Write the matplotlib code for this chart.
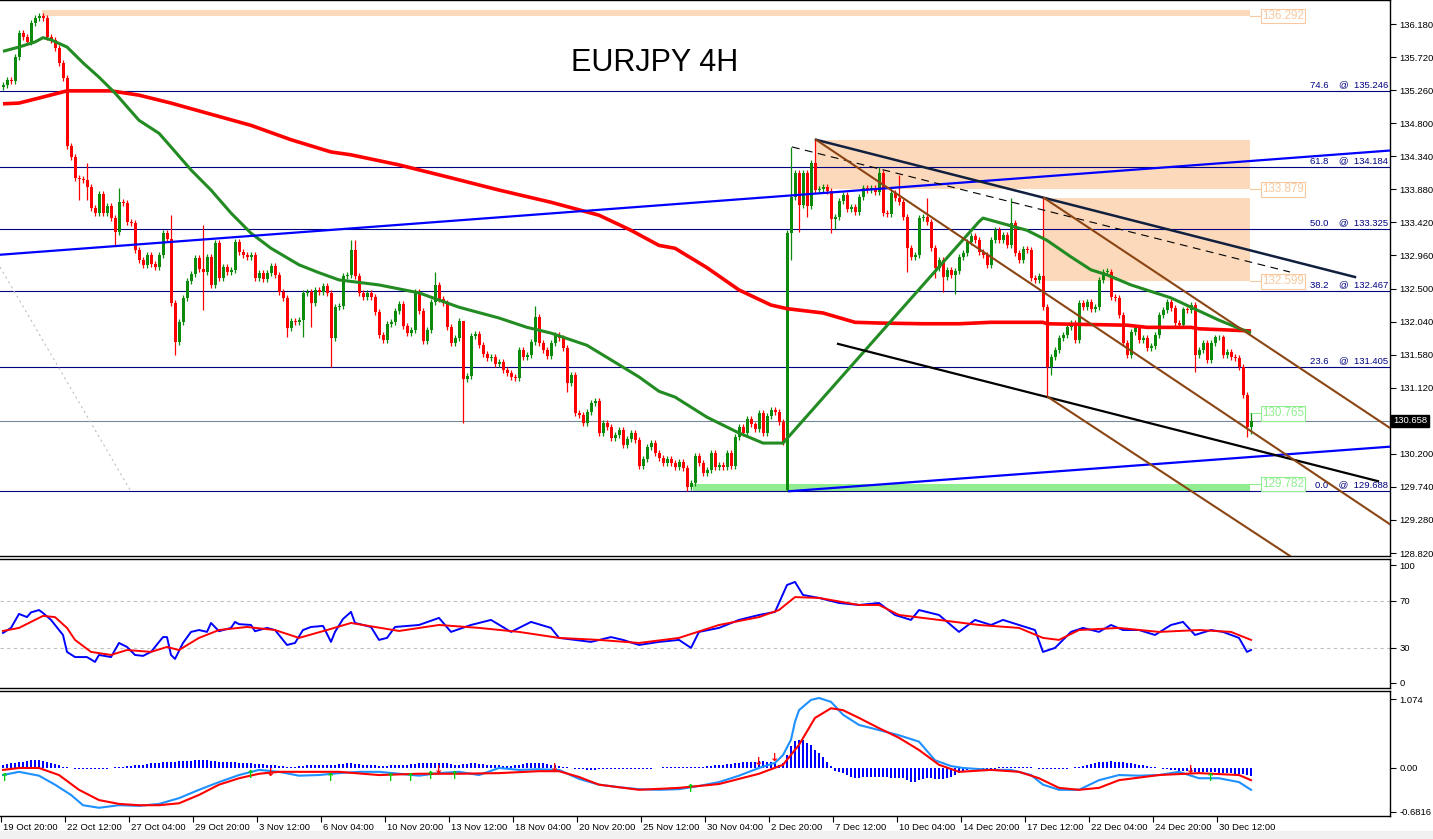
import numpy as np
import matplotlib
matplotlib.use("Agg")
import matplotlib.pyplot as plt
import matplotlib.transforms as mtrans

# ---- data ----
closes = [
    135.33, 135.40, 135.39, 135.72, 136.06, 136.00, 135.93, 136.19, 136.26, 136.29, 136.26, 136.00, 135.96, 135.85, 135.64, 135.43,
    134.48, 134.33, 134.04, 134.02, 134.01, 133.91, 133.62, 133.55, 133.82, 133.55, 133.65, 133.48, 133.29, 133.70, 133.69, 133.43,
    133.41, 133.04, 132.90, 132.83, 132.97, 132.84, 132.80, 132.97, 133.27, 133.19, 132.30, 131.76, 132.03, 132.37, 132.60, 132.70,
    132.92, 132.77, 132.73, 132.94, 132.55, 133.13, 132.65, 132.80, 132.73, 132.76, 133.15, 133.01, 132.97, 132.94, 132.97, 132.65,
    132.72, 132.63, 132.72, 132.81, 132.69, 132.45, 132.37, 131.95, 132.05, 132.03, 132.06, 132.44, 132.45, 132.30, 132.48, 132.45,
    132.54, 132.44, 131.81, 132.24, 132.26, 132.67, 132.69, 133.04, 132.67, 132.44, 132.38, 132.44, 132.38, 132.17, 131.85, 131.78,
    132.01, 132.03, 132.19, 132.28, 131.98, 131.88, 131.92, 132.45, 132.19, 131.77, 131.92, 132.31, 132.55, 132.35, 132.30, 131.96,
    131.74, 131.81, 132.05, 131.24, 131.28, 131.84, 131.87, 131.71, 131.59, 131.53, 131.55, 131.45, 131.48, 131.37, 131.32, 131.27,
    131.26, 131.64, 131.55, 131.58, 131.76, 132.10, 131.74, 131.64, 131.56, 131.74, 131.85, 131.81, 131.67, 131.19, 131.30, 130.77,
    130.74, 130.63, 130.78, 130.91, 130.94, 130.49, 130.63, 130.57, 130.42, 130.46, 130.53, 130.32, 130.41, 130.49, 130.39, 130.03,
    130.13, 130.30, 130.35, 130.21, 130.14, 130.07, 130.13, 130.07, 130.02, 130.09, 130.00, 129.74, 129.79, 130.17, 130.07, 129.93,
    129.98, 130.21, 130.02, 130.05, 130.02, 130.21, 130.03, 130.43, 130.58, 130.49, 130.68, 130.61, 130.55, 130.77, 130.49, 130.73,
    130.81, 130.78, 130.64, 130.36, 133.27, 133.77, 134.11, 133.66, 134.11, 133.65, 134.25, 133.87, 133.88, 133.91, 133.86, 133.47,
    133.50, 133.72, 133.80, 133.61, 133.63, 133.56, 133.77, 133.90, 133.87, 133.90, 133.84, 134.11, 133.55, 133.54, 133.83, 133.76,
    133.70, 133.50, 133.06, 132.94, 132.97, 133.48, 133.50, 133.43, 133.06, 132.79, 132.90, 132.66, 132.76, 132.69, 132.74, 132.94,
    132.99, 133.15, 133.23, 133.18, 133.01, 132.97, 132.83, 133.18, 133.31, 133.18, 133.24, 133.10, 133.41, 132.99, 132.90, 133.05,
    133.04, 132.65, 132.62, 132.67, 132.24, 131.41, 131.55, 131.64, 131.81, 131.85, 131.96, 132.02, 131.78, 132.30, 132.24, 132.31,
    132.21, 132.24, 132.62, 132.73, 132.73, 132.38, 132.37, 132.13, 131.74, 131.58, 131.90, 131.95, 131.78, 131.81, 131.67, 131.70,
    131.85, 132.13, 132.20, 132.31, 132.23, 132.02, 131.99, 132.21, 132.20, 132.27, 131.58, 131.64, 131.74, 131.50, 131.74, 131.82,
    131.82, 131.58, 131.62, 131.55, 131.53, 131.41, 131.02, 130.57, 130.66,
]
first_open = 135.30
open_override = {196: 129.70}
notable_highs = {21: 134.25, 29: 133.90, 42: 133.52, 50: 133.38, 87: 133.18, 88: 133.18, 108: 132.73,
                 115: 131.48, 133: 132.26, 197: 134.47, 203: 134.57, 219: 134.19, 224: 134.08,
                 231: 133.76, 252: 133.76, 260: 133.76, 276: 132.79, 312: 130.77}
notable_lows = {19: 133.73, 21: 133.73, 28: 133.10, 43: 131.58, 50: 132.20, 71: 131.83, 75: 131.83,
                77: 131.97, 82: 131.41, 115: 130.63, 141: 131.06, 171: 129.69, 196: 129.69, 197: 132.90,
                199: 133.29, 201: 133.50, 207: 133.27, 208: 133.33, 226: 132.73, 233: 132.65, 235: 132.45,
                238: 132.43, 261: 130.99, 262: 131.30, 298: 131.34, 311: 130.43, 312: 130.47}
wick = 0.04

# moving averages (bar index, price)
ma_green_idx = [0, 4, 8, 10, 12, 16, 20, 24, 28, 34, 39, 42, 47, 52, 57, 62, 67, 74, 79, 84, 94, 104, 114,
                124, 131, 137, 146, 154, 159, 164, 168, 176, 184, 190, 195, 244, 245, 256, 261, 267, 272,
                276, 282, 292, 297, 304, 312]
ma_green = [135.80, 135.86, 135.93, 135.99, 135.96, 135.86, 135.64, 135.44, 135.22, 134.84, 134.66, 134.47,
            134.15, 133.87, 133.55, 133.27, 133.06, 132.83, 132.72, 132.62, 132.55, 132.44, 132.24, 132.09,
            131.96, 131.88, 131.71, 131.44, 131.27, 131.07, 130.99, 130.71, 130.49, 130.35, 130.35, 133.43,
            133.48, 133.31, 133.17, 132.94, 132.76, 132.69, 132.55, 132.37, 132.24, 132.06, 131.88]
ma_red_idx = [0, 4, 9, 16, 27, 34, 42, 51, 62, 72, 82, 87, 99, 112, 124, 137, 149, 157, 164, 168, 176, 184,
              192, 196, 205, 213, 219, 230, 239, 247, 260, 261, 281, 286, 297, 299, 312]
ma_red = [135.07, 135.08, 135.15, 135.25, 135.25, 135.19, 135.08, 134.94, 134.77, 134.57, 134.40, 134.36,
          134.22, 134.04, 133.87, 133.70, 133.52, 133.31, 133.10, 133.06, 132.79, 132.48, 132.27, 132.22,
          132.16, 132.03, 132.02, 132.01, 132.01, 132.03, 132.03, 132.01, 131.99, 131.96, 131.96, 131.94, 131.91]

# RSI panel
rsi_idx = [0, 2, 4, 6, 7, 9, 10, 12, 15, 16, 18, 21, 23, 24, 27, 29, 31, 33, 35, 37, 40, 41, 42, 43, 45, 47,
           49, 51, 52, 54, 57, 58, 59, 62, 63, 66, 68, 71, 73, 75, 77, 80, 82, 83, 85, 87, 88, 92, 94, 96,
           98, 104, 109, 112, 117, 122, 127, 132, 137, 139, 143, 147, 152, 155, 159, 164, 169, 172, 174,
           179, 184, 189, 193, 196, 198, 200, 204, 209, 214, 219, 223, 227, 229, 234, 239, 243, 247, 250,
           254, 258, 260, 263, 267, 270, 274, 277, 280, 284, 288, 292, 295, 298, 302, 305, 309, 311, 312]
rsi_val = [42.5, 46.8, 58.7, 56.0, 60.0, 62.0, 59.5, 53.6, 40.8, 26.4, 22.0, 22.0, 17.9, 23.8, 22.0, 34.0,
           30.6, 23.8, 23.0, 26.4, 39.0, 39.0, 23.8, 20.4, 34.0, 43.4, 45.0, 43.4, 51.0, 44.0, 46.8, 51.9,
           50.0, 49.3, 44.0, 46.8, 45.0, 32.3, 34.0, 45.0, 47.6, 48.5, 34.9, 43.4, 54.4, 60.4, 51.0, 47.6,
           36.6, 38.3, 47.6, 49.3, 55.3, 43.4, 49.3, 53.6, 43.4, 51.9, 46.8, 38.3, 36.6, 34.9, 39.0, 36.6,
           32.3, 34.9, 36.6, 29.8, 43.4, 46.8, 53.6, 57.8, 60.4, 83.3, 85.9, 74.8, 72.3, 68.0, 66.3, 68.0,
           57.8, 53.6, 62.0, 57.8, 43.4, 53.6, 49.3, 53.6, 49.3, 45.0, 26.4, 29.8, 43.4, 46.8, 43.4, 49.3,
           45.0, 45.0, 40.8, 49.3, 51.9, 40.8, 45.0, 43.4, 38.3, 26.4, 28.0]
rsi_sig_idx = [0, 4, 7, 10, 13, 16, 18, 22, 27, 31, 37, 41, 44, 49, 54, 61, 68, 74, 81, 87, 93, 99, 109,
               119, 129, 139, 149, 159, 169, 179, 189, 194, 198, 204, 214, 219, 224, 234, 244, 254, 260,
               264, 269, 279, 289, 299, 307, 312]
rsi_sig = [44.2, 46.8, 51.9, 57.0, 56.0, 46.8, 36.6, 26.4, 23.8, 28.0, 26.4, 30.6, 28.0, 38.3, 45.0, 47.6,
           45.0, 38.3, 45.0, 51.0, 47.6, 44.2, 49.3, 46.8, 43.4, 38.3, 36.6, 34.0, 38.3, 49.3, 56.0, 62.0,
           73.0, 72.3, 66.3, 66.3, 57.8, 53.6, 49.3, 46.8, 38.3, 36.6, 45.0, 46.8, 43.4, 45.0, 43.4, 36.6]

# MACD panel
macd_idx = [0, 4, 9, 13, 17, 20, 24, 29, 34, 39, 44, 49, 54, 59, 64, 69, 74, 79, 84, 89, 94, 99, 104, 109,
            114, 119, 124, 129, 134, 139, 144, 149, 154, 159, 164, 169, 174, 179, 184, 189, 193, 195, 197,
            198, 199, 202, 204, 207, 210, 214, 219, 224, 229, 233, 237, 240, 247, 252, 257, 260, 264, 269,
            274, 279, 284, 289, 294, 299, 304, 309, 312]
macd_val = [-0.11, -0.06, -0.12, -0.26, -0.42, -0.58, -0.62, -0.58, -0.59, -0.56, -0.47, -0.34, -0.22,
            -0.11, -0.03, -0.06, -0.12, -0.11, -0.08, -0.06, -0.06, -0.09, -0.12, -0.08, -0.06, -0.11,
            0.0, -0.03, -0.02, -0.03, -0.17, -0.26, -0.30, -0.33, -0.34, -0.33, -0.28, -0.22, -0.12, 0.0,
            0.08, 0.20, 0.44, 0.72, 0.90, 1.06, 1.09, 1.03, 0.83, 0.67, 0.59, 0.51, 0.41, 0.12, 0.03, 0.0,
            -0.03, -0.03, -0.11, -0.26, -0.34, -0.34, -0.19, -0.11, -0.12, -0.11, -0.06, -0.16, -0.16,
            -0.22, -0.34]
signal_idx = [0, 4, 9, 14, 19, 24, 29, 34, 39, 44, 49, 54, 59, 64, 69, 74, 84, 94, 104, 114, 124, 134, 139,
              144, 149, 159, 169, 179, 189, 195, 199, 203, 207, 210, 214, 219, 224, 229, 234, 239, 247, 254,
              259, 264, 269, 274, 279, 289, 299, 309, 312]
signal_val = [-0.03, 0.0, 0.0, -0.11, -0.34, -0.50, -0.56, -0.58, -0.58, -0.55, -0.42, -0.26, -0.16, -0.09,
              -0.06, -0.06, -0.06, -0.11, -0.09, -0.09, -0.08, -0.05, -0.05, -0.14, -0.26, -0.34, -0.31,
              -0.25, -0.09, 0.05, 0.36, 0.78, 0.93, 0.90, 0.78, 0.62, 0.47, 0.28, 0.05, -0.06, -0.03, -0.06,
              -0.16, -0.31, -0.34, -0.31, -0.19, -0.11, -0.08, -0.11, -0.19]
histogram = [
    0.05, 0.06, 0.07, 0.08, 0.09, 0.10, 0.11, 0.12, 0.12, 0.12, 0.11, 0.10, 0.08, 0.06, 0.04, 0.02,
    0.01, 0.0, -0.01, -0.01, -0.02, -0.02, -0.02, -0.02, -0.01, -0.01, -0.01, 0.0, 0.01, 0.01, 0.02, 0.03,
    0.03, 0.04, 0.05, 0.05, 0.06, 0.07, 0.08, 0.08, 0.09, 0.09, 0.10, 0.10, 0.11, 0.11, 0.11, 0.11,
    0.12, 0.12, 0.12, 0.12, 0.11, 0.11, 0.10, 0.10, 0.10, 0.09, 0.09, 0.08, 0.08, 0.07, 0.07, 0.06,
    0.06, 0.06, 0.05, 0.05, 0.04, 0.03, 0.03, 0.02, 0.02, 0.02, 0.03, 0.03, 0.04, 0.04, 0.04, 0.04,
    0.05, 0.05, 0.04, 0.05, 0.06, 0.06, 0.07, 0.07, 0.06, 0.06, 0.05, 0.05, 0.04, 0.04, 0.03, 0.03,
    0.03, 0.04, 0.04, 0.05, 0.05, 0.05, 0.06, 0.06, 0.07, 0.07, 0.07, 0.08, 0.08, 0.08, 0.07, 0.07,
    0.06, 0.05, 0.05, 0.06, 0.06, 0.07, 0.07, 0.06, 0.06, 0.05, 0.05, 0.04, 0.04, 0.03, 0.03, 0.03,
    0.04, 0.05, 0.06, 0.07, 0.08, 0.08, 0.08, 0.07, 0.06, 0.05, 0.04, 0.03, 0.02, 0.01, 0.0, -0.01,
    -0.02, -0.02, -0.03, -0.03, -0.03, -0.02, -0.02, -0.02, -0.02, -0.01, -0.01, -0.01, -0.01, -0.01, -0.01, -0.01,
    -0.01, -0.01, -0.01, 0.0, 0.0, 0.01, 0.01, 0.01, 0.01, 0.01, 0.01, 0.02, 0.02, 0.02, 0.02, 0.02,
    0.03, 0.03, 0.04, 0.05, 0.05, 0.06, 0.06, 0.07, 0.08, 0.09, 0.10, 0.10, 0.10, 0.11, 0.11, 0.10,
    0.10, 0.10, 0.05, 0.08, 0.20, 0.34, 0.42, 0.44, 0.44, 0.39, 0.36, 0.28, 0.23, 0.17, 0.09, 0.03,
    -0.05, -0.06, -0.08, -0.11, -0.14, -0.15, -0.15, -0.14, -0.14, -0.14, -0.14, -0.14, -0.14, -0.14, -0.15, -0.15,
    -0.16, -0.15, -0.19, -0.22, -0.22, -0.19, -0.17, -0.15, -0.15, -0.17, -0.17, -0.17, -0.16, -0.14, -0.11, -0.08,
    -0.06, -0.03, -0.01, -0.01, -0.01, -0.01, -0.01, -0.01, -0.01, 0.01, 0.01, 0.01, 0.01, 0.01, 0.01, 0.01,
    0.01, 0.01, 0.0, -0.01, -0.01, -0.02, -0.02, -0.02, -0.02, -0.01, -0.01, 0.0, 0.01, 0.02, 0.03, 0.04,
    0.06, 0.08, 0.09, 0.10, 0.10, 0.11, 0.10, 0.10, 0.09, 0.08, 0.07, 0.06, 0.05, 0.04, 0.03, 0.02,
    0.01, 0.0, -0.01, -0.02, -0.03, -0.03, -0.04, -0.04, -0.04, -0.05, -0.06, -0.06, -0.06, -0.07, -0.07, -0.07,
    -0.08, -0.08, -0.08, -0.08, -0.09, -0.09, -0.10, -0.11, -0.12,
]
arrows_up_idx = [0.5, 62, 82, 97, 102, 107, 113, 172, 302]
arrows_up_val = [-0.16, -0.11, -0.16, -0.16, -0.16, -0.12, -0.12, -0.33, -0.16]
arrows_dn_idx = [67, 109, 138, 189, 193, 297]
arrows_dn_val = [-0.08, -0.03, 0.0, 0.09, 0.16, -0.03]

# fibonacci levels and drawn objects
fib_levels = ["74.6", "61.8", "50.0", "38.2", "23.6", "0.0"]
fib_prices = [135.246, 134.184, 133.325, 132.467, 131.405, 129.688]
last_price = 130.658
price_ticks = [136.18, 135.72, 135.26, 134.80, 134.34, 133.88, 133.42, 132.96, 132.50, 132.04,
               131.58, 131.12, 130.20, 129.74, 129.28, 128.82]
date_labels = ["19 Oct 20:00", "22 Oct 12:00", "27 Oct 04:00", "29 Oct 20:00", "3 Nov 12:00",
               "6 Nov 04:00", "10 Nov 20:00", "13 Nov 12:00", "18 Nov 04:00", "20 Nov 20:00",
               "25 Nov 12:00", "30 Nov 04:00", "2 Dec 20:00", "7 Dec 12:00", "10 Dec 04:00",
               "14 Dec 20:00", "17 Dec 12:00", "22 Dec 04:00", "24 Dec 20:00", "30 Dec 12:00"]
zones = [  # (start bar, end bar, low, high, colour, label price)
    (9.75, 311.75, 136.29, 136.37, "#fcd9bb", 136.292),
    (203.25, 311.75, 133.879, 134.57, "#fcd9bb", 133.879),
    (260.25, 311.75, 132.599, 133.76, "#fcd9bb", 132.599),
    (172.5, 311.75, 129.688, 129.782, "#90ee90", 129.782),
]
trendlines = [  # (x0, y0, x1, y1, colour, width, style)
    (-0.75, 132.97, 346.75, 134.42, "#0000ff", 1.6, "-"),
    (196.5, 129.68, 346.75, 130.30, "#0000ff", 1.6, "-"),
    (203.25, 134.57, 338.0, 132.66, "#12203f", 1.8, "-"),
    (208.75, 131.73, 343.75, 129.82, "#000000", 1.6, "-"),
    (197.25, 134.47, 321.75, 132.73, "#000000", 0.8, (0, (7, 5))),
    (203.25, 134.57, 346.75, 129.22, "#8b4513", 1.5, "-"),
    (260.25, 133.76, 346.75, 130.56, "#8b4513", 1.5, "-"),
    (261.25, 130.99, 321.75, 128.78, "#8b4513", 1.5, "-"),
    (-0.75, 132.80, 31.75, 129.70, "#c0c0c0", 0.8, (0, (2, 3))),
]

# ---- figure ----
W, H = 1433, 839
SMALL = "Liberation Sans"
LBL = "#f8c9a0"


def px_rect(x0, y0, x1, y1):
    return [x0 / W, 1 - y1 / H, (x1 - x0) / W, (y1 - y0) / H]


fig = plt.figure(figsize=(W / 100, H / 100), dpi=100)
ax = fig.add_axes(px_rect(0, 0, 1390, 556))
ax_rsi = fig.add_axes(px_rect(0, 559, 1390, 688))
ax_macd = fig.add_axes(px_rect(0, 691, 1390, 816))
XMIN, XMAX = -0.75, 346.75

for a in (ax, ax_rsi, ax_macd):
    a.set_xlim(XMIN, XMAX)
    a.spines["left"].set_visible(False)
    for s in ("top", "bottom", "right"):
        a.spines[s].set_linewidth(1.0)
    a.yaxis.tick_right()
    a.tick_params(axis="y", direction="out", length=4, width=0.8, labelsize=6.8, pad=3)
    a.tick_params(axis="x", bottom=False, labelbottom=False)

# ---- main price panel ----
ax.set_ylim(128.779, 136.514)
ax.set_yticks(price_ticks)
ax.set_yticklabels([f"{p:.3f}" for p in price_ticks], family=SMALL)

for x0, x1, lo, hi, col, lab in zones:
    ax.fill_between([x0, x1], lo, hi, color=col, lw=0, zorder=1)
    tcol = LBL if col != "#90ee90" else col
    ax.plot([x1, x1 + 2.6], [lab, lab], color=tcol, lw=0.8, zorder=2)
    ax.text(x1 + 3.0, lab, f"{lab:.3f}", color=tcol, fontsize=8.4, family=SMALL, va="center",
            ha="left", bbox=dict(boxstyle="square,pad=0.12", fc="white", ec=tcol, lw=0.8), zorder=3)

ax.plot([311.75, 314.35], [130.765, 130.765], color="#90ee90", lw=0.8, zorder=2)
ax.text(314.75, 130.765, "130.765", color="#90ee90", fontsize=8.4, family=SMALL, va="center",
        ha="left", bbox=dict(boxstyle="square,pad=0.12", fc="white", ec="#90ee90", lw=0.8), zorder=3)

for lvl, pr in zip(fib_levels, fib_prices):
    ax.axhline(pr, color="#000080", lw=0.8, zorder=2)
    ax.text(346.3, pr + 0.025, f"{lvl}    @  {pr:.3f}", color="#000080", fontsize=6.8,
            family=SMALL, ha="right", va="bottom", zorder=3)

ax.axhline(last_price, color="#778899", lw=0.8, zorder=2)

# candles
n = len(closes)
idx = np.arange(n)
opens = np.array([first_open] + closes[:-1])
for k, v in open_override.items():
    opens[k] = v
cl = np.array(closes)
highs = np.maximum(opens, cl) + wick
lows = np.minimum(opens, cl) - wick
for k, v in notable_highs.items():
    highs[k] = v
for k, v in notable_lows.items():
    lows[k] = v
up = cl >= opens
colors = np.where(up, "#0b8a0b", "#ff0000")
ax.vlines(idx, lows, highs, colors=colors, lw=0.9, zorder=4)
body = np.maximum(np.abs(cl - opens), 0.012)
ax.bar(idx, body, bottom=np.minimum(opens, cl), width=0.75, color=colors, lw=0, zorder=5)

ax.plot(ma_red_idx, ma_red, color="#ff0000", lw=2.6, zorder=6, solid_capstyle="butt")
ax.plot(ma_green_idx, ma_green, color="#228b22", lw=2.2, zorder=6, solid_capstyle="butt")

for x0, y0, x1, y1, col, lw, ls in trendlines:
    ax.plot([x0, x1], [y0, y1], color=col, lw=lw, ls=ls, zorder=7)

ax.text(655 / 1390, 1 - 63 / 556, "EURJPY 4H", transform=ax.transAxes, ha="center", va="center",
        fontsize=22, family="Liberation Sans", color="black", zorder=8)

tr = mtrans.blended_transform_factory(ax.transAxes, ax.transData)
ax.text(1.0 + 3 / 1390, last_price, "130.658", transform=tr, color="white", fontsize=6.8,
        family=SMALL, va="center", ha="left", clip_on=False,
        bbox=dict(boxstyle="square,pad=0.2", fc="black", ec="black"))

# ---- RSI panel ----
ax_rsi.set_ylim(-4.3, 105.4)
ax_rsi.set_yticks([100, 70, 30, 0])
ax_rsi.set_yticklabels(["100", "70", "30", "0"], family=SMALL)
for lv in (70, 30):
    ax_rsi.axhline(lv, color="#c0c0c0", lw=0.8, ls=(0, (3, 3)))
ax_rsi.plot(rsi_idx, rsi_val, color="#0000ff", lw=1.4)
ax_rsi.plot(rsi_sig_idx, rsi_sig, color="#ff0000", lw=1.4)

# ---- MACD panel ----
ax_macd.set_ylim(-0.748, 1.199)
ax_macd.set_yticks([1.074, 0.0, -0.6816])
ax_macd.set_yticklabels(["1.074", "0.00", "-0.6816"], family=SMALL)
ax_macd.bar(np.arange(len(histogram)), histogram, width=0.7, color="#0000ff", lw=0)
ax_macd.plot(macd_idx, macd_val, color="#1e90ff", lw=1.5)
ax_macd.plot(signal_idx, signal_val, color="#ff0000", lw=1.5)
for xi, yi in zip(arrows_up_idx, arrows_up_val):
    ax_macd.text(xi, yi, "\u2191", color="#00cc00", fontsize=8, ha="center", va="center",
                 family="DejaVu Sans", fontweight="bold")
for xi, yi in zip(arrows_dn_idx, arrows_dn_val):
    ax_macd.text(xi, yi, "\u2193", color="#ff0000", fontsize=8, ha="center", va="center",
                 family="DejaVu Sans", fontweight="bold")

# date axis
tick_pos = [16 * k - 0.5 for k in range(len(date_labels))]
ax_macd.tick_params(axis="x", bottom=True, direction="out", length=4, width=0.8)
ax_macd.set_xticks(tick_pos)
trx = mtrans.blended_transform_factory(ax_macd.transData, ax_macd.transAxes)
for p, lab in zip(tick_pos, date_labels):
    ax_macd.text(p + 0.6, -0.09, lab, transform=trx, fontsize=6.8, family=SMALL, ha="left",
                 va="center", clip_on=False)

fig.patches.append(plt.Rectangle((0, 0), 1, 8 / H, transform=fig.transFigure,
                                 color="#f0f0f0", zorder=0))
fig.savefig("out.png", dpi=100)
